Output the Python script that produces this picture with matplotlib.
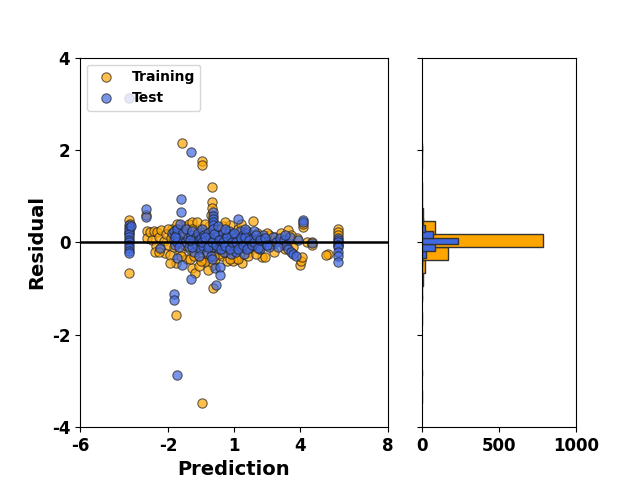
import matplotlib
matplotlib.use("Agg")
import matplotlib.pyplot as plt
import numpy as np

# ---- scatter data (prediction, residual) ----
train_pred = [-3.77, -3.75, -3.72, -3.77, -3.77,
              -3.02, -2.95, -2.95, -2.80, -2.72, -2.65, -2.55, -2.50, -2.42, -2.35, -2.30, -2.20, -2.15, -2.10, -2.00,
              -1.90, -1.85, -1.80, -1.75, -1.70, -1.62, -1.55, -1.50, -1.45, -1.36, -1.35, -1.30, -1.25, -1.20, -1.15,
              -1.10, -1.05, -1.00, -0.95, -0.90, -0.90, -0.85, -0.80, -0.77, -0.70, -0.65, -0.60, -0.55, -0.50,
              -0.45, -0.45, -0.44, -0.40, -0.40, -0.35, -0.30, -0.30, -0.25, -0.20, -0.15, -0.10, -0.05,
              0.00, 0.00, 0.00, 0.02, 0.05, 0.06, 0.10, 0.15, 0.20, 0.25, 0.30, 0.35, 0.40, 0.45, 0.50, 0.55, 0.60,
              0.70, 0.75, 0.80, 0.90, 0.95, 1.00, 1.10, 1.20, 1.25, 1.36, 1.40, 1.50, 1.60, 1.70, 1.80, 1.86, 1.95,
              2.05, 2.15, 2.27, 2.30, 2.40, 2.45, 2.60, 2.70, 2.85, 3.00, 3.15, 3.25, 3.45, 3.55, 3.70, 3.85,
              4.00, 4.05, 4.10, 4.14, 4.14, 4.30, 4.55, 4.55, 5.29, 5.20, 5.71, 5.71, 5.71, 5.71,
              -1.64, -1.90, -1.40, -1.00, -0.60, -0.20, 0.30, 0.70, 1.10, 1.55, -2.60, -0.70, 0.45, 0.95, 1.65,
              -1.20, -0.80, -0.50, -0.30, 0.10, 0.40, 0.80, 1.20, 1.50, 2.00, 2.50, 2.80, 3.30, 3.60, -2.00, -2.40,
              -1.60, -0.90, 0.60, 1.30]
train_resid = [0.48, 0.40, 0.33, 0.20, -0.66,
               0.60, 0.25, 0.10, 0.22, 0.05, 0.25, -0.08, 0.22, 0.12, -0.15, 0.27, 0.02, -0.23, 0.18, -0.05,
               -0.27, 0.10, 0.30, -0.10, 0.20, -0.45, 0.05, 0.28, -0.20, 2.16, 0.12, 0.35, -0.05, 0.31, -0.35,
               0.15, 0.40, -0.15, 0.05, 0.44, -0.55, -0.12, 0.20, -0.66, 0.10, -0.30, 0.30, -0.05, 0.15,
               1.77, 1.68, -3.47, -0.40, 0.05, 0.25, -0.42, -0.10, 0.12, -0.25, 0.35, -0.05, 0.60,
               1.20, 0.88, 0.75, -0.20, -0.49, -0.99, 0.25, -0.35, 0.05, -0.15, 0.30, -0.05, 0.15, -0.30, 0.35, 0.00, -0.20,
               0.20, -0.10, 0.38, 0.05, -0.25, 0.18, -0.05, 0.28, -0.30, -0.45, 0.10, -0.12, 0.25, -0.20, 0.05, 0.47, -0.08,
               0.20, -0.15, -0.32, 0.10, -0.32, 0.05, 0.15, -0.05, 0.12, 0.05, 0.20, -0.05, 0.27, 0.05, -0.10, 0.10,
               -0.49, -0.40, -0.32, 0.34, 0.40, 0.00, 0.00, -0.05, -0.26, -0.28, 0.30, 0.22, 0.15, -0.05,
               -1.58, -0.45, -0.30, -0.35, -0.50, -0.60, -0.25, -0.40, -0.35, 0.15, -0.20, 0.45, 0.20, -0.40, -0.30,
               0.00, -0.30, -0.40, 0.40, -0.30, 0.30, -0.35, -0.35, 0.20, -0.25, 0.20, -0.20, -0.15, 0.15, 0.30, -0.20,
               0.40, 0.30, 0.45, 0.40]

test_pred = [-3.77, -3.77, -3.77, -3.77, -3.77, -3.77, -3.77, -3.77, -3.77, -3.77, -3.77, -3.70,
             -3.77, -3.01, -3.01, -2.36,
             -1.80, -1.75, -1.72, -1.68, -1.65, -1.60, -1.60, -1.55, -1.45, -1.41, -1.41, -1.36, -1.30, -1.25, -1.20,
             -1.10, -1.05, -0.95, -0.95, -0.90, -0.85, -0.80, -0.75, -0.70, -0.65, -0.60, -0.55, -0.50, -0.45, -0.40,
             -0.35, -0.30, -0.25, -0.20, -0.15, -0.10, -0.05,
             0.05, 0.05, 0.05, 0.05, 0.05, 0.05, 0.08, 0.10, 0.15, 0.20, 0.25, 0.30, 0.36, 0.36, 0.40, 0.45, 0.50,
             0.55, 0.60, 0.65, 0.70, 0.75, 0.80, 0.85, 0.90, 1.00, 1.05, 1.10, 1.18, 1.20, 1.25, 1.30, 1.40, 1.45,
             1.55, 1.60, 1.70, 1.80, 1.90, 2.00, 2.10, 2.20, 2.30, 2.45, 2.60, 2.75, 2.90, 3.10, 3.25, 3.35, 3.45,
             3.55, 3.60, 3.70, 3.80, 3.90, 4.14, 4.14, 4.55,
             5.71, 5.71, 5.71, 5.71, 5.71, 5.71, 5.71, 5.71,
             -1.59, -1.71, -1.71, -0.94,
             -0.45, -0.30, -0.20, 0.00, 0.10, 0.20, 0.30, 0.40, 0.50, 0.60, 0.70, 0.80, 0.90, 1.00, 1.10, 1.20,
             1.30, 1.40, 1.50, 1.60, 1.70, 1.80, 1.90, 2.00, 2.10, 2.20, 2.40, 2.50, -1.60, -1.50, -1.70, -0.90,
             -1.00, 0.25, 0.60, 1.50, -0.60, 0.00, 3.00, 3.30]
test_resid = [0.38, 0.31, 0.25, 0.18, 0.12, 0.06, 0.00, -0.06, -0.12, -0.18, -0.23, 0.35,
              3.13, 0.72, 0.56, -0.12,
              0.20, 0.05, 0.25, -0.05, 0.15, -0.33, 0.30, 0.10, 0.40, 0.94, 0.66, -0.49, 0.20, 0.00, 0.30,
              0.10, -0.10, 1.96, 0.15, 0.25, 0.00, -0.20, 0.12, -0.05, 0.20, 0.05, -0.15, 0.10, 0.30, -0.08,
              0.15, 0.02, -0.20, 0.20, -0.05, 0.10, -0.30,
              0.66, 0.58, 0.50, 0.44, 0.38, 0.28, -0.10, 0.05, -0.55, -0.93, 0.15, -0.15, -0.53, -0.70, 0.08, -0.05, 0.20,
              -0.20, 0.10, 0.00, -0.10, 0.25, 0.05, -0.25, 0.15, -0.05, 0.10, -0.20, 0.51, 0.05, 0.25, -0.10, 0.15, -0.25,
              0.00, 0.20, -0.10, 0.10, 0.25, -0.05, 0.08, -0.15, 0.15, 0.00, -0.10, 0.12, 0.00, 0.10, 0.05, -0.05, -0.15,
              0.12, -0.20, -0.25, -0.30, 0.05, 0.49, 0.45, -0.02,
              0.10, 0.05, 0.00, -0.05, -0.10, -0.20, -0.30, -0.42,
              -2.87, -1.12, -1.25, -0.79,
              0.00, 0.12, -0.10, 0.00, 0.18, -0.05, 0.05, -0.15, 0.00, -0.08, 0.12, -0.15, 0.00, 0.20, 0.00, -0.15,
              0.10, -0.05, 0.12, -0.15, 0.05, -0.05, 0.00, 0.15, -0.12, 0.05, 0.10, -0.05, 0.00, -0.10, 0.12, -0.10,
              0.05, 0.35, 0.30, 0.30, -0.30, -0.35, -0.10, 0.15]

# ---- histogram data (bin lower edge, bin width, count) ----
train_bin_lo = [-3.47, -1.78, -1.218, -0.937, -0.655, -0.374, -0.092, 0.19, 0.47, 0.75, 1.03, 1.595, 1.877]
train_bin_w = 0.2815
train_counts = [1, 1, 2, 4, 17, 169, 783, 87, 6, 2, 1, 3, 1]

test_bin_lo = [-2.90, -1.29, -0.965, -0.48, -0.336, -0.19, -0.04, 0.104, 0.235, 0.38, 0.52, 1.95]
test_bin_w = 0.145
test_counts = [1, 2, 1, 3, 26, 85, 234, 72, 17, 4, 2, 1]

plt.rcParams['font.family'] = ['DejaVu Sans']
plt.rcParams['font.weight'] = 'bold'
plt.rcParams['axes.unicode_minus'] = False

fig = plt.figure(figsize=(6.4, 4.8), dpi=100)
ax = fig.add_axes([0.125, 0.11, 0.48125, 0.77])
axh = fig.add_axes([0.6594, 0.11, 0.2406, 0.77], sharey=ax)

train_color = '#FFA500'
test_color = '#4169E1'

ax.scatter(train_pred, train_resid, s=45, c=train_color, alpha=0.7,
           edgecolors='#222222', linewidths=0.8, label='Training', zorder=2)
ax.scatter(test_pred, test_resid, s=45, c=test_color, alpha=0.7,
           edgecolors='#222222', linewidths=0.8, label='Test', zorder=2)
ax.axhline(0, color='black', lw=1.8, zorder=3)

ax.set_xlim(-6, 8)
ax.set_ylim(-4, 4)
ax.set_xticks([-6, -2, 1, 4, 8])
ax.set_yticks([-4, -2, 0, 2, 4])
ax.set_xlabel('Prediction', fontsize=14, fontweight='bold')
ax.set_ylabel('Residual', fontsize=14, fontweight='bold')
for lab in ax.get_xticklabels() + ax.get_yticklabels():
    lab.set_fontsize(12)
    lab.set_fontweight('bold')

leg = ax.legend(loc='upper left', prop={'weight': 'bold', 'size': 10}, frameon=True)

axh.barh(train_bin_lo, train_counts, height=train_bin_w, align='edge',
         color=train_color, edgecolor='#333333', linewidth=1.0)
axh.barh(test_bin_lo, test_counts, height=test_bin_w, align='edge',
         color=test_color, edgecolor='#333333', linewidth=1.0)
axh.set_xlim(0, 1000)
axh.set_xticks([0, 500, 1000])
axh.tick_params(axis='y', labelleft=False)
for lab in axh.get_xticklabels():
    lab.set_fontsize(12)
    lab.set_fontweight('bold')

fig.savefig('out.png', dpi=100)
